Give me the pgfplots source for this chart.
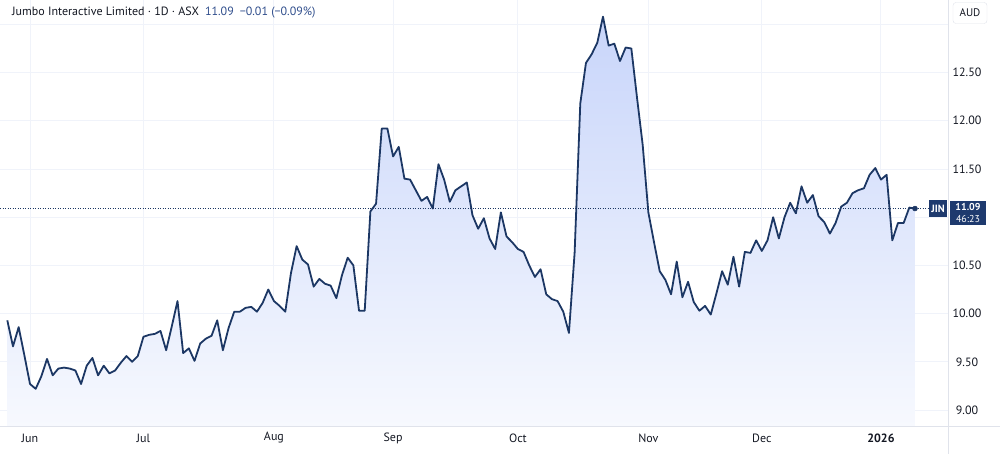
\documentclass[border=0pt]{standalone}
\usepackage{pgfplots}
\pgfplotsset{compat=1.18}
\usepackage{pgfplotstable}
\usepackage{fontspec}
\setmainfont{PT Sans}

\definecolor{linec}{RGB}{28,55,100}
\definecolor{gridc}{RGB}{240,243,250}
\definecolor{sepc}{RGB}{224,227,235}
\definecolor{txtc}{RGB}{19,23,34}
\definecolor{navy}{RGB}{30,58,110}
\definecolor{filltop}{RGB}{200,213,250}
\definecolor{fillbot}{RGB}{247,249,254}
\definecolor{pricec}{RGB}{48,78,140}

% daily close, x = trading day counted from 2 Jun 2025
\pgfplotstableread{
idx close
-4 9.93
-3 9.66
-2 9.86
-1 9.57
0 9.27
1 9.22
2 9.35
3 9.53
4 9.36
5 9.43
6 9.44
7 9.43
8 9.41
9 9.27
10 9.46
11 9.54
12 9.36
13 9.46
14 9.38
15 9.41
16 9.49
17 9.56
18 9.50
19 9.56
20 9.76
21 9.78
22 9.79
23 9.82
24 9.62
25 9.87
26 10.13
27 9.59
28 9.64
29 9.51
30 9.69
31 9.74
32 9.77
33 9.93
34 9.62
35 9.85
36 10.02
37 10.02
38 10.06
39 10.07
40 10.02
41 10.11
42 10.25
43 10.13
44 10.08
45 10.02
46 10.42
47 10.70
48 10.56
49 10.51
50 10.28
51 10.36
52 10.31
53 10.29
54 10.16
55 10.40
56 10.58
57 10.50
58 10.03
59 10.03
60 11.06
61 11.14
62 11.92
63 11.92
64 11.63
65 11.73
66 11.40
67 11.39
68 11.28
69 11.17
70 11.21
71 11.09
72 11.55
73 11.39
74 11.16
75 11.28
76 11.32
77 11.36
78 11.02
79 10.88
80 10.99
81 10.78
82 10.67
83 11.05
84 10.80
85 10.74
86 10.67
87 10.64
88 10.50
89 10.38
90 10.46
91 10.20
92 10.15
93 10.13
94 10.02
95 9.80
96 10.63
97 12.18
98 12.60
99 12.69
100 12.81
101 13.08
102 12.78
103 12.80
104 12.62
105 12.76
106 12.75
107 12.24
108 11.75
109 11.05
110 10.74
111 10.44
112 10.35
113 10.20
114 10.54
115 10.17
116 10.33
117 10.12
118 10.03
119 10.08
120 9.99
121 10.21
122 10.44
123 10.30
124 10.59
125 10.28
126 10.64
127 10.63
128 10.76
129 10.65
130 10.76
131 11.00
132 10.78
133 11.00
134 11.15
135 11.04
136 11.32
137 11.15
138 11.23
139 11.01
140 10.95
141 10.83
142 10.94
143 11.11
144 11.15
145 11.25
146 11.28
147 11.30
148 11.44
149 11.51
150 11.39
151 11.44
152 10.76
153 10.94
154 10.94
155 11.10
156 11.09
}\jin

\begin{document}
\begin{tikzpicture}[x=1pt,y=1pt]
\useasboundingbox (0,-27) rectangle (1000,427);
\begin{axis}[
    scale only axis,
    width=948pt, height=427pt,
    xmin=-5.29, xmax=161.82,
    ymin=8.824, ymax=13.253,
    axis line style={draw=none},
    tick style={draw=none},
    grid=major,
    major grid style={gridc, line width=1pt},
    xtick={0,20,43,64,86,109,129,150},
    xticklabels={Jun,Jul,Aug,Sep,Oct,Nov,Dec,\textbf{2026}},
    xticklabel style={anchor=center, yshift=-11pt, text=txtc, font=\fontsize{12}{14}\selectfont},
    ytick={9,9.5,10,10.5,11,11.5,12,12.5,13},
    % 11.00 sits under the last-price box, 13.00 under the AUD box
    yticklabels={9.00,9.50,10.00,10.50,,11.50,12.00,12.50,},
    yticklabel pos=right,
    yticklabel style={anchor=center, xshift=19pt, text=txtc, font=\fontsize{12}{14}\selectfont},
    clip=true,
]
    \addplot[draw=none, top color=filltop, bottom color=fillbot]
        table[x=idx, y=close] {\jin}
        -- (axis cs:156,8.824) -- (axis cs:-4,8.824) -- cycle;
    \draw[linec, line width=0.7pt, dash pattern=on 1pt off 1.5pt]
        (axis cs:-5.29,11.09) -- (axis cs:161.82,11.09);
    \addplot[linec, line width=1.8pt, line join=round] table[x=idx, y=close] {\jin};
    \addplot[only marks, mark=*, mark size=2.5pt, linec] coordinates {(156,11.09)};
\end{axis}
% frame separators
\draw[sepc, line width=1pt] (948,-27) -- (948,427);
\draw[sepc, line width=1pt] (0,0) -- (1000,0);
% header
\node[anchor=west, text=txtc, font=\fontsize{12}{14}\selectfont, inner sep=0pt] at (12,414)
    {Jumbo Interactive Limited · 1D · ASX\hspace{6pt}\textcolor{pricec}{11.09\hspace{6pt}−0.01 (−0.09\%)}};
\node[draw=sepc, fill=white, rounded corners=3pt, minimum width=34pt, minimum height=21pt,
      text=txtc, font=\fontsize{11}{13}\selectfont] at (970,414) {AUD};
% last price labels
\node[fill=navy, text=white, font=\bfseries\fontsize{10.5}{12}\selectfont, inner sep=2pt,
      minimum height=17pt] at (938,218.5) {JIN};
\node[fill=navy, text=white, font=\fontsize{10}{12.5}\selectfont, align=center, inner sep=2pt,
      minimum width=36pt] at (968,214) {\textbf{11.09}\\46:23};
\end{tikzpicture}
\end{document}
